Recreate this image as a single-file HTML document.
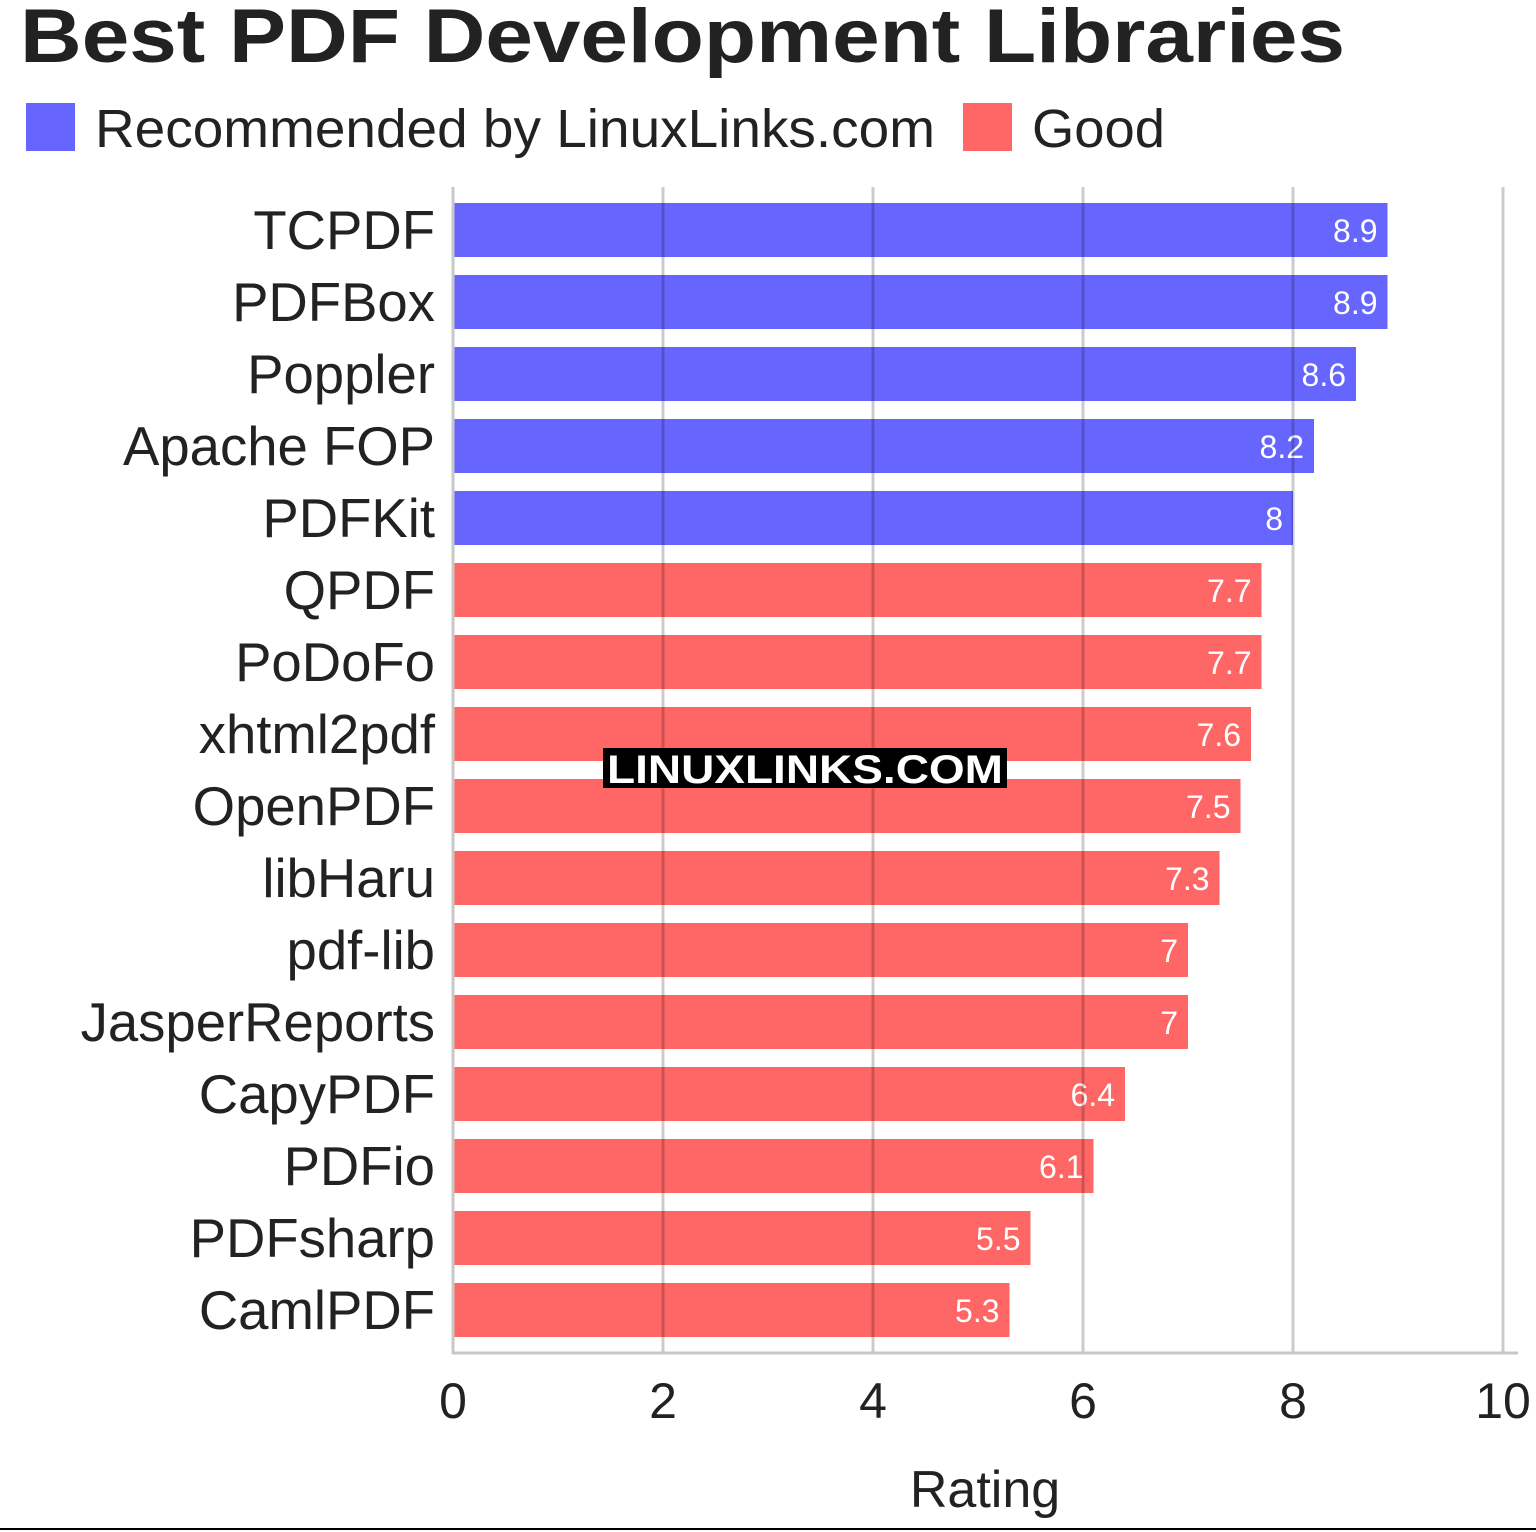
<!DOCTYPE html>
<html><head><meta charset="utf-8"><style>
body{margin:0;background:#fff;width:1536px;height:1532px;overflow:hidden}
svg{display:block}
text{font-family:"Liberation Sans",sans-serif}
</style></head><body>
<svg id="chart" width="1536" height="1532" xmlns="http://www.w3.org/2000/svg">
<text x="20" y="62" font-size="76" font-weight="bold" fill="#222" textLength="1325" lengthAdjust="spacingAndGlyphs">Best PDF Development Libraries</text>
<rect x="26" y="103" width="49" height="48" fill="#6666ff"/>
<text x="95" y="147" font-size="54" fill="#222" textLength="840" lengthAdjust="spacingAndGlyphs">Recommended by LinuxLinks.com</text>
<rect x="963" y="103" width="49" height="48" fill="#ff6666"/>
<text x="1032" y="147" font-size="54" fill="#222" textLength="133" lengthAdjust="spacingAndGlyphs">Good</text>
<g id="bars"></g>
<g id="grid"></g>
<line x1="453" y1="187" x2="453" y2="1354" stroke="#c8c8c8" stroke-width="3"/>
<line x1="452" y1="1353" x2="1518" y2="1353" stroke="#c8c8c8" stroke-width="3"/>
<g id="ticks"></g>
<text x="985" y="1507" font-size="52" text-anchor="middle" fill="#222" font-family="DejaVu Sans, sans-serif">Rating</text>
<rect x="603" y="748" width="404" height="40" fill="#000"/>
<text x="805" y="783" font-size="40" font-weight="bold" fill="#fff" text-anchor="middle" font-family="DejaVu Sans, sans-serif" textLength="396" lengthAdjust="spacingAndGlyphs">LINUXLINKS.COM</text>
<line x1="0" y1="1529" x2="1536" y2="1529" stroke="#000" stroke-width="2"/>
</svg>
<script>
const categories=["TCPDF","PDFBox","Poppler","Apache FOP","PDFKit","QPDF","PoDoFo","xhtml2pdf","OpenPDF","libHaru","pdf-lib","JasperReports","CapyPDF","PDFio","PDFsharp","CamlPDF"];
const values=[8.9,8.9,8.6,8.2,8,7.7,7.7,7.6,7.5,7.3,7,7,6.4,6.1,5.5,5.3];
const recommended=[1,1,1,1,1,0,0,0,0,0,0,0,0,0,0,0];
const ticks=[0,2,4,6,8,10];
const NS="http://www.w3.org/2000/svg";
const x=v=>453+v*105;
const y=i=>230+i*72;
function mk(tag,attrs,parent){const e=document.createElementNS(NS,tag);for(const k in attrs)e.setAttribute(k,attrs[k]);parent.appendChild(e);return e;}
const bars=document.getElementById('bars'),grid=document.getElementById('grid'),tk=document.getElementById('ticks');
categories.forEach((c,i)=>{
  const r=mk('rect',{x:x(0),y:y(i)-27,width:x(values[i])-x(0),height:54,fill:recommended[i]?'#6666ff':'#ff6666'},bars);
  
  
  const v=mk('text',{x:x(values[i])-10,y:y(i)+12,'font-size':32,fill:'#fff','text-anchor':'end'},bars);
  v.textContent=values[i];
  
  
  const l=mk('text',{x:435,y:y(i)+19,'font-size':54.5,fill:'#222','text-anchor':'end'},bars);
  l.textContent=c;
  
  
});
ticks.forEach(t=>{
  if(t>0){const g=mk('line',{x1:x(t),y1:187,x2:x(t),y2:1353,stroke:'rgba(0,0,0,0.2)','stroke-width':3},grid);
  
  }
  const s=mk('text',{x:x(t),y:1418,'font-size':50,fill:'#222','text-anchor':'middle','font-family':'DejaVu Sans, sans-serif'},tk);
  s.textContent=t;
  
  
});
</script>
</body></html>
